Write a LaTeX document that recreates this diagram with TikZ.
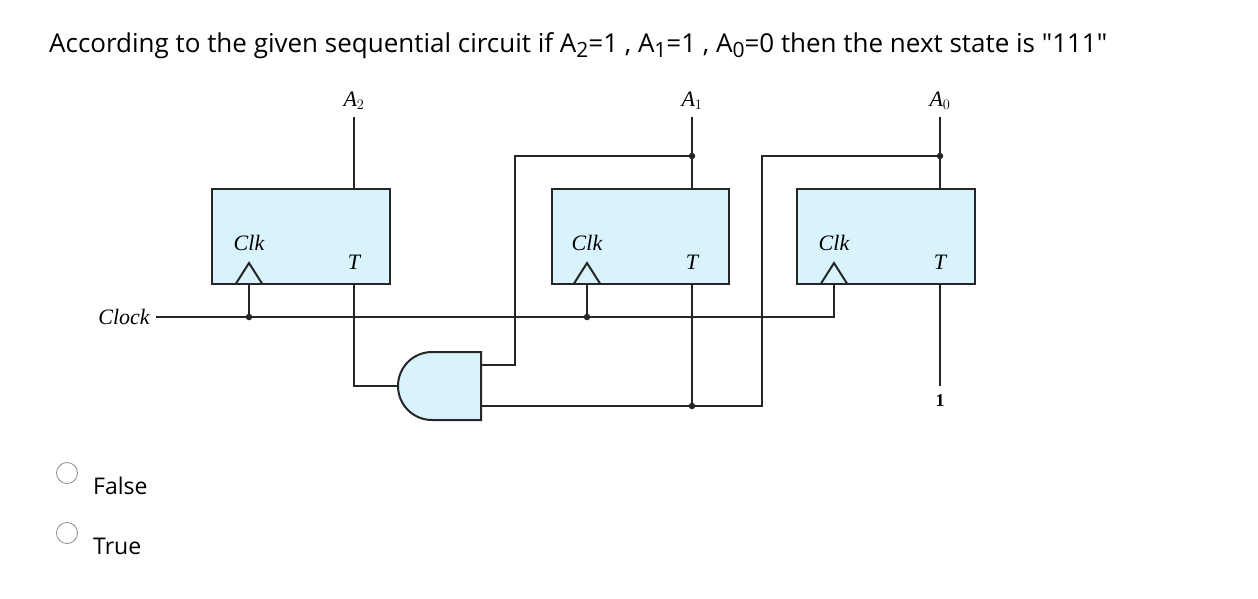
\documentclass[tikz,border=0pt]{standalone}
\usepackage{fontspec}
\setmainfont{Open Sans}
\newfontfamily\ckt{Liberation Serif}
\newcommand{\lsub}[1]{\raisebox{-5pt}{\fontsize{21}{24}\selectfont #1}}
\begin{document}
\begin{tikzpicture}[x=1pt,y=-1pt,
  w/.style={line width=2pt,draw=black!85},
  ff/.style={w,fill=cyan!15!white},
  dot/.style={circle,fill=black!85,inner sep=0pt,minimum size=6.5pt},
  lab/.style={font=\ckt\itshape\fontsize{22}{22}\selectfont,inner sep=0pt},
  opt/.style={circle,draw=black!45,line width=0.8pt,minimum size=21pt,inner sep=0pt}]
\useasboundingbox (0,0) rectangle (1258,598);
\node[anchor=west,font=\fontsize{26}{30}\selectfont,inner sep=0pt] (title) at (49,46)
  {According to the given sequential circuit if A\lsub{2}=1 , A\lsub{1}=1 , A\lsub{0}=0 then the next state is \textquotedbl 111\textquotedbl};
% flip-flops
\node[ff,minimum width=178pt,minimum height=95pt,inner sep=0pt] (f2) at (301,236) {};
\node[ff,minimum width=177pt,minimum height=95pt,inner sep=0pt] (f1) at (640.5,236) {};
\node[ff,minimum width=178pt,minimum height=95pt,inner sep=0pt] (f0) at (886,236) {};
\foreach \f/\cx/\tx in {f2/249/354,f1/587/692,f0/834/940}{
  \node[lab] (\f c) at (\cx,243) {Clk};
  \node[lab] (\f t) at (\tx,262) {T};
  \draw[w] (\cx-13,283.5) -- (\cx,263) -- (\cx+13,283.5);
}
% outputs
\node[lab] (a2) at (354,101) {A$_2$};
\node[lab] (a1) at (692,101) {A$_1$};
\node[lab] (a0) at (940,101) {A$_0$};
\coordinate (t2) at (354,117); \coordinate (t1) at (692,117); \coordinate (t0) at (940,117);
\draw[w] (t2) -- (354,188.5);
\draw[w] (t1) -- (692,188.5);
\draw[w] (t0) -- (940,188.5);
\node[dot] (d1) at (692,156) {};
\node[dot] (d0) at (940,156) {};
% clock
\node[lab,font=\ckt\itshape\fontsize{22}{22}\selectfont] (clock) at (124,317) {Clock};
\node[dot] (c2) at (249,317) {};
\node[dot] (c1) at (587,317) {};
\draw[w] (clock.east) ++(6,0) -- (834,317) -- (834,283.5);
\draw[w] (c2) -- (249,283.5);
\draw[w] (c1) -- (587,283.5);
% gate
\draw[ff] (481,352) -- (432,352) arc[start angle=270,end angle=90,radius=34] -- (481,420) -- cycle;
\coordinate (g) at (398,386);
\draw[w] (354,283.5) -- (354,386) -- (g);
\draw[w] (481,365) -- (515,365) -- (515,156) -- (d1);
\node[dot] (d2) at (692,406) {};
\draw[w] (481,406) -- (762,406) -- (762,156) -- (d0);
\draw[w] (692,283.5) -- (d2);
\node[lab,font=\ckt\bfseries\fontsize{18}{18}\selectfont] (one) at (940,401) {1};
\draw[w] (940,283.5) -- (940,386);
% options
\node[opt] (o1) at (67,473) {};
\node[opt] (o2) at (67,533) {};
\node[anchor=west,font=\fontsize{23}{26}\selectfont,inner sep=0pt] (fa) at (93,486) {False};
\node[anchor=west,font=\fontsize{23}{26}\selectfont,inner sep=0pt] (tr) at (93,546) {True};
\end{tikzpicture}
\end{document}
